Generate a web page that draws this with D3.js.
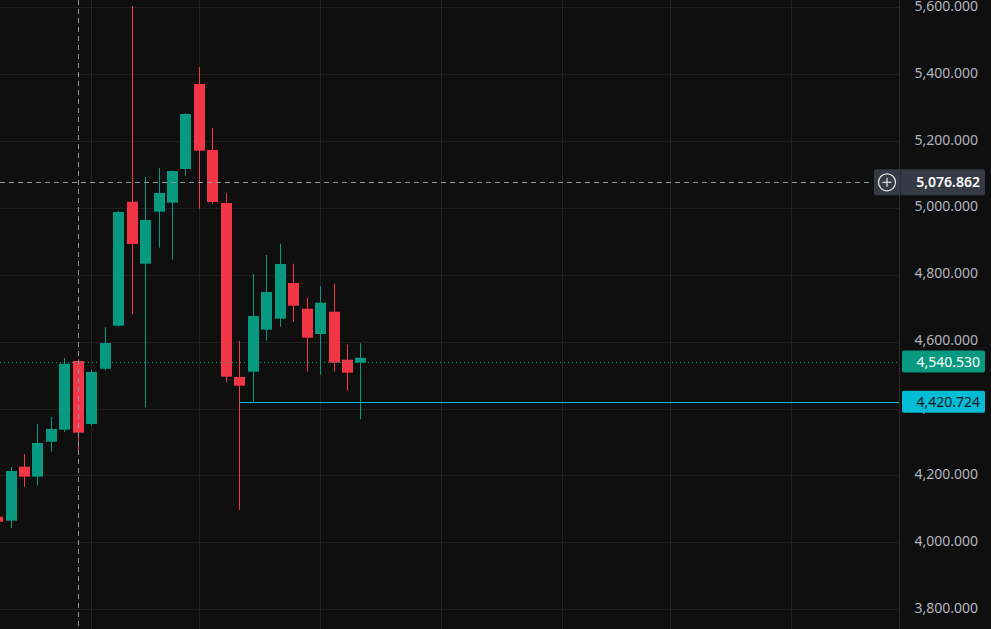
<!DOCTYPE html>
<html>
<head>
<meta charset="utf-8">
<script src="https://cdn.jsdelivr.net/npm/d3@7"></script>
<style>
  html, body { margin: 0; padding: 0; background: #0f0f0f; overflow: hidden; }
  svg { display: block; }
</style>
</head>
<body>
<svg id="chart" width="991" height="629"></svg>
<script>
// ---- data ----
const opens  = [4076.6, 4064.7, 4226.2, 4196.3, 4301.0, 4336.9, 4542.4, 4353.9, 4519.3, 4647.9, 5018.8, 4833.4, 4988.9, 5015.9, 5116.7, 5370.9, 5173.5, 5015.0, 4494.5, 4510.4, 4636.0, 4668.9, 4775.7, 4698.8, 4623.1, 4689.8, 4546.3, 4537.3];
const highs  = [4085.0, 4225.3, 4264.2, 4353.9, 4374.9, 4551.3, 4548.0, 4515.5, 4643.2, 4991.9, 5604.2, 5092.7, 5119.6, 5112.0, 5284.2, 5421.7, 5239.3, 5044.9, 4602.2, 4802.6, 4859.4, 4893.2, 4833.4, 4731.7, 4766.9, 4773.6, 4591.1, 4595.3];
const lows   = [4055.0, 4042.9, 4165.5, 4169.4, 4271.1, 4330.0, 4276.2, 4348.8, 4515.0, 4645.0, 4682.0, 4403.9, 4881.3, 4845.4, 5096.6, 4997.9, 5012.9, 4477.5, 4096.7, 4420.6, 4603.1, 4644.9, 4659.9, 4510.4, 4501.4, 4510.4, 4453.5, 4368.0];
const closes = [4061.6, 4213.3, 4196.3, 4297.1, 4338.9, 4534.3, 4327.9, 4509.5, 4596.2, 4988.0, 4892.3, 4964.1, 5044.9, 5110.7, 5281.2, 5171.4, 5017.9, 4495.4, 4468.5, 4676.9, 4748.8, 4832.5, 4707.8, 4612.1, 4716.7, 4537.3, 4507.4, 4552.2];

const priceTicks = [3800, 4000, 4200, 4400, 4600, 4800, 5000, 5200, 5400, 5600];
const timeGridIdx = [7, 15, 24, 33, 42, 50, 59];   // month boundaries (bar index)

const lastPrice = 4540.530;
const rayPrice = 4420.724;
const rayStartIdx = 18;
const crossPrice = 5076.862;
const crossIdx = 6;

// ---- layout ----
const W = 991, H = 629;
const plotRight = 899;
const FONT = '"Noto Sans", "Open Sans", sans-serif';
const svg = d3.select('#chart');

const x = d3.scaleLinear().domain([0, 67]).range([-2.96, -2.96 + 67 * 13.46]);
const y = d3.scaleLinear().domain([5000, 4600]).range([208, 341.72]);

const fmt = d3.format(',.3f');
const GREEN = '#089981', RED = '#f23645', CYAN = '#00bcd4';

svg.append('rect').attr('width', W).attr('height', H).attr('fill', '#0f0f0f');

const plot = svg.append('g');
const clip = svg.append('clipPath').attr('id', 'pc');
clip.append('rect').attr('x', 0).attr('y', 0).attr('width', plotRight).attr('height', H);
const pg = plot.append('g').attr('clip-path', 'url(#pc)');

// grid
pg.append('g').selectAll('line').data(priceTicks).join('line')
  .attr('x1', 0).attr('x2', plotRight)
  .attr('y1', d => Math.round(y(d)) + 0.5).attr('y2', d => Math.round(y(d)) + 0.5)
  .attr('stroke', '#1f1f1f').attr('stroke-width', 1);
pg.append('g').selectAll('line').data(timeGridIdx).join('line')
  .attr('x1', d => Math.round(x(d)) + 0.5).attr('x2', d => Math.round(x(d)) + 0.5)
  .attr('y1', 0).attr('y2', H)
  .attr('stroke', '#242424').attr('stroke-width', 1);

// candles
const bars = d3.range(opens.length);
const bw = 11;
const cg = pg.append('g');
cg.selectAll('line.wick').data(bars).join('line').attr('class', 'wick')
  .attr('x1', i => Math.round(x(i)) + 0.5).attr('x2', i => Math.round(x(i)) + 0.5)
  .attr('y1', i => y(highs[i])).attr('y2', i => y(lows[i]))
  .attr('stroke', i => closes[i] >= opens[i] ? GREEN : RED).attr('stroke-width', 1);
cg.selectAll('rect.body').data(bars).join('rect').attr('class', 'body')
  .attr('x', i => Math.round(x(i)) + 0.5 - bw / 2)
  .attr('width', bw)
  .attr('y', i => y(Math.max(opens[i], closes[i])))
  .attr('height', i => Math.max(1, Math.abs(y(opens[i]) - y(closes[i]))))
  .attr('fill', i => closes[i] >= opens[i] ? GREEN : RED);

// last price dotted line
pg.append('line')
  .attr('x1', 0).attr('x2', plotRight)
  .attr('y1', Math.round(y(lastPrice)) + 0.5).attr('y2', Math.round(y(lastPrice)) + 0.5)
  .attr('stroke', GREEN).attr('stroke-width', 1).attr('stroke-dasharray', '1,3');

// horizontal ray
pg.append('line')
  .attr('x1', Math.round(x(rayStartIdx))).attr('x2', plotRight)
  .attr('y1', Math.round(y(rayPrice)) + 0.5).attr('y2', Math.round(y(rayPrice)) + 0.5)
  .attr('stroke', CYAN).attr('stroke-width', 1);

// crosshair
pg.append('line')
  .attr('x1', Math.round(x(crossIdx)) + 0.5).attr('x2', Math.round(x(crossIdx)) + 0.5)
  .attr('y1', 0).attr('y2', H)
  .attr('stroke', '#9598a1').attr('stroke-width', 1).attr('stroke-dasharray', '5,4');
pg.append('line')
  .attr('x1', 0).attr('x2', 872)
  .attr('y1', Math.round(y(crossPrice)) + 0.5).attr('y2', Math.round(y(crossPrice)) + 0.5)
  .attr('stroke', '#9598a1').attr('stroke-width', 1).attr('stroke-dasharray', '5,4');

// price axis border
svg.append('line').attr('x1', plotRight + 0.5).attr('x2', plotRight + 0.5).attr('y1', 0).attr('y2', H)
  .attr('stroke', '#2a2a2a');

// price axis labels
const axisG = svg.append('g').attr('transform', `translate(${plotRight},0)`);
const axis = d3.axisRight(y).tickValues(priceTicks).tickFormat(fmt).tickSize(0).tickPadding(0);
axisG.call(axis);
axisG.select('.domain').remove();
axisG.selectAll('text')
  .attr('x', 79).attr('y', -2).attr('text-anchor', 'end').attr('dy', '0.35em')
  .attr('fill', '#b2b5be')
  .style('font-family', FONT).style('font-size', '14px');

function priceTag(v, bg, fg) {
  const cy = y(v);
  const g = svg.append('g');
  g.append('rect').attr('x', 902).attr('y', cy - 11).attr('width', 83).attr('height', 22).attr('rx', 2).attr('fill', bg);
  g.append('text').attr('x', 980).attr('y', cy).attr('dy', '0.36em').attr('text-anchor', 'end')
    .attr('fill', fg).style('font-family', FONT).style('font-size', '14px')
    .text(fmt(v));
}
priceTag(lastPrice, GREEN, '#ffffff');
priceTag(rayPrice, CYAN, '#131722');

// crosshair label with plus button
{
  const cy = y(crossPrice);
  svg.append('rect').attr('x', 874).attr('y', cy - 13).attr('width', 111).attr('height', 26).attr('rx', 2).attr('fill', '#363a45');
  svg.append('line').attr('x1', 900.5).attr('x2', 900.5).attr('y1', cy - 13).attr('y2', cy + 13).attr('stroke', '#2a2e39');
  svg.append('circle').attr('cx', 887).attr('cy', cy).attr('r', 8.5).attr('fill', 'none').attr('stroke', '#e6e6e6').attr('stroke-width', 1.2);
  svg.append('line').attr('x1', 882.5).attr('x2', 891.5).attr('y1', cy).attr('y2', cy).attr('stroke', '#e6e6e6').attr('stroke-width', 1.2);
  svg.append('line').attr('x1', 887).attr('x2', 887).attr('y1', cy - 4.5).attr('y2', cy + 4.5).attr('stroke', '#e6e6e6').attr('stroke-width', 1.2);
  svg.append('text').attr('x', 980).attr('y', cy).attr('dy', '0.36em').attr('text-anchor', 'end')
    .attr('fill', '#ffffff').style('font-family', FONT).style('font-size', '14px')
    .style('font-weight', 600).text(fmt(crossPrice));
}
</script>
</body>
</html>
